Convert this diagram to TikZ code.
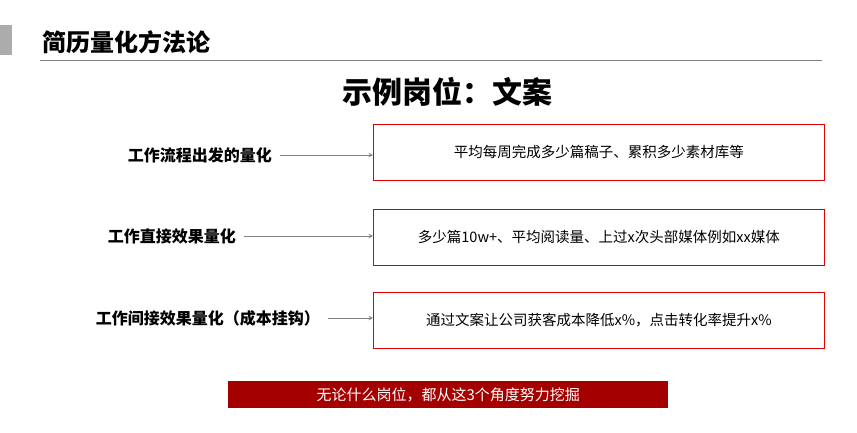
\documentclass[tikz,border=0pt]{standalone}
\usepackage{fontspec}
\setmainfont{Noto Sans CJK SC}
\newfontfamily\cjkb[BoldFont={* Bold}]{Noto Sans CJK SC}
\definecolor{dred}{HTML}{A50000}
\definecolor{bred}{HTML}{E00000}
\begin{document}
\begin{tikzpicture}[x=1pt,y=-1pt,
  lab/.style={font=\fontsize{16}{18}\selectfont\bfseries,anchor=east,inner sep=0},
  box/.style={draw=bred,line width=0.8pt,minimum width=451pt,minimum height=56pt,anchor=north west,font=\fontsize{14.5}{17}\selectfont,inner sep=0},
  arr/.style={draw=gray,line width=1pt,->,>=stealth}]
\useasboundingbox (0,0) rectangle (857,432);
\fill[gray!65] (0,25) rectangle (12,55);
\node[anchor=west,font=\fontsize{24}{28}\selectfont\bfseries,inner sep=0] (title) at (42,42) {简历量化方法论};
\draw[gray,line width=0.8pt] (40,60) -- (822,60);
\node[font=\fontsize{30}{34}\selectfont\bfseries] (sub) at (447,92) {示例岗位：文案};
\node[box] (b1) at (373,124) {平均每周完成多少篇稿子、累积多少素材库等};
\node[box] (b2) at (373,209) {多少篇10w+、平均阅读量、上过x次头部媒体例如xx媒体};
\node[box] (b3) at (373,292) {通过文案让公司获客成本降低x\%，点击转化率提升x\%};
\node[lab] (l1) at (272,155) {工作流程出发的量化};
\node[lab] (l2) at (236,236) {工作直接效果量化};
\node[lab] (l3) at (320,318) {工作间接效果量化（成本挂钩）};
\draw[arr] ([xshift=8pt]l1.east) -- (b1.west|-l1.east);
\draw[arr] ([xshift=8pt]l2.east) -- (b2.west|-l2.east);
\draw[arr] ([xshift=8pt]l3.east) -- (b3.west|-l3.east);
\node[fill=dred,text=white,minimum width=440pt,minimum height=27pt,inner sep=0,anchor=north west,font=\fontsize{15}{17}\selectfont] (bar) at (228,381) {无论什么岗位，都从这3个角度努力挖掘};
\end{tikzpicture}
\end{document}
